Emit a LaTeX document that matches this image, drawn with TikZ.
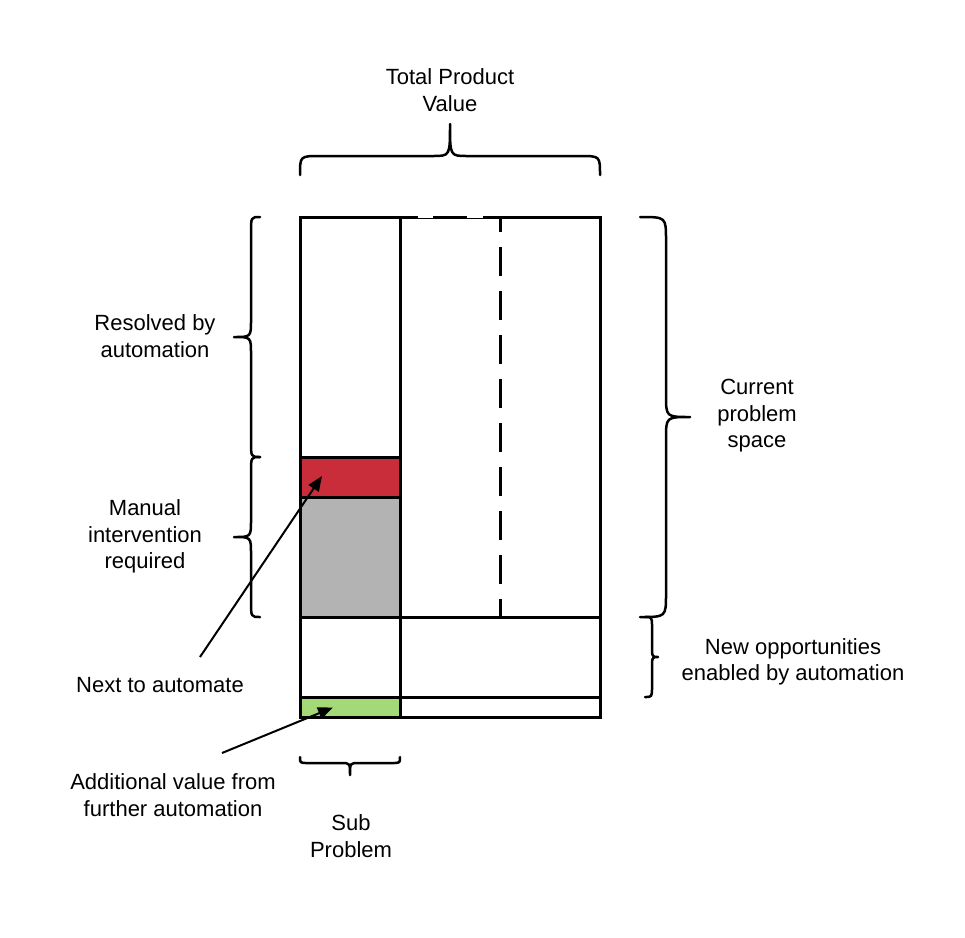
\documentclass[tikz,border=0pt]{standalone}
\usepackage{fontspec}
\setmainfont{Liberation Sans}
\usetikzlibrary{arrows.meta}
\definecolor{myred}{HTML}{C92D39}
\definecolor{mygrey}{HTML}{B3B3B3}
\definecolor{mygreen}{HTML}{A3D977}
% vertical brace: xend, xline, xtip, ytop, ybottom, rend, rtip
\newcommand\VBr[7]{%
  \draw[bracestyle] (#1,#4) .. controls (#2,#4) .. (#2,{#4+#6})
    -- (#2,{(#4+#5)/2-#7}) .. controls (#2,{(#4+#5)/2}) .. (#3,{(#4+#5)/2})
    .. controls (#2,{(#4+#5)/2}) .. (#2,{(#4+#5)/2+#7})
    -- (#2,{#5-#6}) .. controls (#2,#5) .. (#1,#5);}
% horizontal brace: yend, yline, ytip, xleft, xright, rend, rtip
\newcommand\HBr[7]{%
  \draw[bracestyle] (#4,#1) .. controls (#4,#2) .. ({#4+#6},#2)
    -- ({(#4+#5)/2-#7},#2) .. controls ({(#4+#5)/2},#2) .. ({(#4+#5)/2},#3)
    .. controls ({(#4+#5)/2},#2) .. ({(#4+#5)/2+#7},#2)
    -- ({#5-#6},#2) .. controls (#5,#2) .. (#5,#1);}
\tikzset{
  bracestyle/.style={line width=2.5pt, line cap=round, line join=round},
  boxline/.style={line width=3pt},
  dashline/.style={line width=3pt, dash pattern=on 29pt off 15pt, dash phase=14pt},
  arr/.style={line width=2pt, -{Triangle[length=15pt,width=12pt]}},
  lbl/.style={font=\fontsize{22}{26.5}\selectfont, align=center, inner sep=0pt},
}
\begin{document}
\begin{tikzpicture}[x=1pt,y=-1pt]
\useasboundingbox (0,0) rectangle (965,937);
\fill[white] (0,0) rectangle (965,937);
% coloured cells
\fill[myred] (300,457) rectangle (400,497);
\fill[mygrey] (300,497) rectangle (400,617);
\fill[mygreen] (300,697) rectangle (400,717);
% grid
\draw[boxline] (300,217) rectangle (600,717);
\draw[boxline] (400,217) -- (400,717);
\draw[boxline] (300,457) -- (400,457);
\draw[boxline] (300,497) -- (400,497);
\draw[boxline] (300,617) -- (600,617);
\draw[boxline] (300,697) -- (600,697);
\draw[dashline] (500,217) -- (500,617);
\fill[white] (418,215) rectangle (433,218.3);
\fill[white] (467,215) rectangle (483,218.3);
% braces
\HBr{175}{156}{124}{300}{600}{20}{17}
\HBr{757}{763}{775}{300}{400}{8}{9}
\VBr{260}{251}{234}{217}{457}{16}{17}
\VBr{260}{251}{234}{457}{617}{16}{17}
\VBr{640}{666}{690}{217}{617}{23}{22}
\VBr{645}{652}{658}{617}{697}{10}{12}
% labels
\node[lbl] (total) at (450,90) {Total Product\\Value};
\node[lbl] (resolved) at (155,336) {Resolved by\\automation};
\node[lbl] (manual) at (145,536.5) {Manual\\intervention\\required};
\node[lbl] (next) at (160,685) {Next to automate};
\node[lbl] (current) at (757,416) {Current\\problem\\space};
\node[lbl] (newopp) at (793,662) {New opportunities\\enabled by automation};
\node[lbl] (addval) at (173,795) {Additional value from\\further automation};
\node[lbl] (sub) at (351,836) {Sub\\Problem};
% arrows
\coordinate (nextstart) at (200,657);
\coordinate (redtip) at (322,476);
\coordinate (addstart) at (222,753);
\coordinate (greentip) at (333,707.5);
\draw[arr] (nextstart) -- (redtip);
\draw[arr] (addstart) -- (greentip);
\end{tikzpicture}
\end{document}
